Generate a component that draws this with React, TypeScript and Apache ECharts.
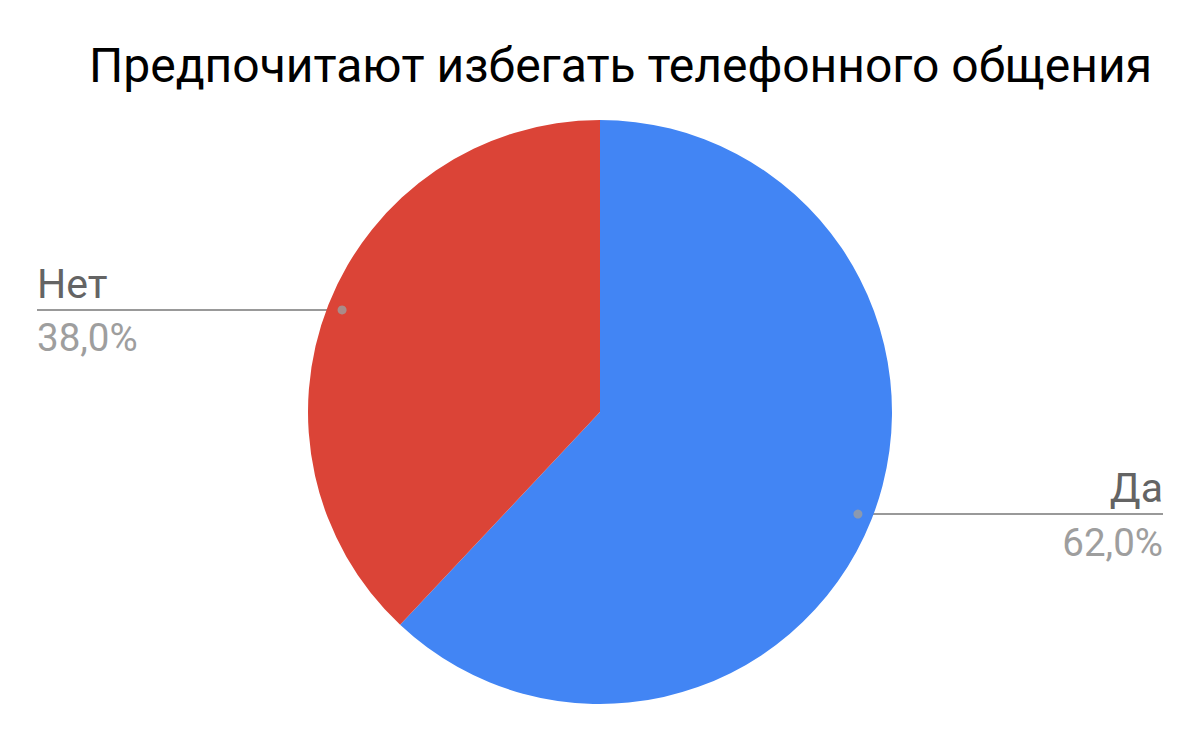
import { useEffect, useRef } from 'react';
import * as echarts from 'echarts';

// Chart data
const chartTitle = 'Предпочитают избегать телефонного общения';
const categories = ['Да', 'Нет'];
const values = [62, 38];
const sliceColors = ['#4285F4', '#DB4437'];

const CENTER: [number, number] = [600, 412];
const RADIUS = 292;
const DOT_RATIO = 0.95;
const EDGE_LEFT = 37;
const EDGE_RIGHT = 1163;

const total = values.reduce((a, b) => a + b, 0);
const fmtPct = (v: number) => ((v / total) * 100).toFixed(1).replace('.', ',') + '%';

// middle of each slice, in value units along the angle axis
const midValues = values.map((v, i) => values.slice(0, i).reduce((a, b) => a + b, 0) + v / 2);

export default function App() {
  const containerRef = useRef<HTMLDivElement>(null);

  useEffect(() => {
    if (!containerRef.current) return;
    const chart = echarts.init(containerRef.current, null, { renderer: 'svg' });

    const option: any = {
      animation: false,
      backgroundColor: '#ffffff',
      textStyle: { fontFamily: 'Roboto' },
      title: {
        text: chartTitle,
        left: 84,
        top: 36,
        textStyle: { fontFamily: 'Roboto', fontSize: 48, fontWeight: 'normal', color: '#000000' },
      },
      polar: { center: CENTER, radius: RADIUS },
      angleAxis: { type: 'value', min: 0, max: total, startAngle: 90, clockwise: true, show: false },
      radiusAxis: { type: 'value', min: 0, max: 1, show: false },
      series: [
        {
          type: 'pie',
          center: CENTER,
          radius: RADIUS,
          startAngle: 90,
          clockwise: true,
          emphasis: { disabled: true },
          data: categories.map((name, i) => ({
            name,
            value: values[i],
            itemStyle: { color: sliceColors[i] },
          })),
          label: {
            show: true,
            formatter: (p: any) => `{name|${p.name}}\n{pct|${fmtPct(p.value)}}`,
            rich: {
              name: { fontFamily: 'Roboto', fontSize: 41, color: '#646464', lineHeight: 48 },
              pct: { fontFamily: 'Roboto', fontSize: 38.5, color: '#9e9e9e', lineHeight: 60 },
            },
          },
          labelLine: {
            show: true,
            length: 0,
            length2: 0,
            lineStyle: { color: '#999999', width: 2 },
          },
          labelLayout: (params: any) => {
            const p0 = params.labelLinePoints[0];
            const dx = CENTER[0] + (p0[0] - CENTER[0]) * DOT_RATIO;
            const dy = CENTER[1] + (p0[1] - CENTER[1]) * DOT_RATIO;
            const isLeft = p0[0] < CENTER[0];
            const edgeX = isLeft ? EDGE_LEFT : EDGE_RIGHT;
            return {
              x: edgeX,
              y: dy + 4,
              align: isLeft ? 'left' : 'right',
              verticalAlign: 'middle',
              labelLinePoints: [
                [dx, dy],
                [dx, dy],
                [edgeX, dy],
              ],
            };
          },
        },
        {
          type: 'scatter',
          coordinateSystem: 'polar',
          silent: true,
          symbol: 'circle',
          symbolSize: 9,
          itemStyle: { color: '#9e9e9e' },
          data: midValues.map((m) => [DOT_RATIO, m]),
        },
      ],
    };

    chart.setOption(option);
    return () => chart.dispose();
  }, []);

  return (
    <div
      ref={containerRef}
      style={{ position: 'fixed', left: 0, top: 0, width: '1200px', height: '742px' }}
    />
  );
}
